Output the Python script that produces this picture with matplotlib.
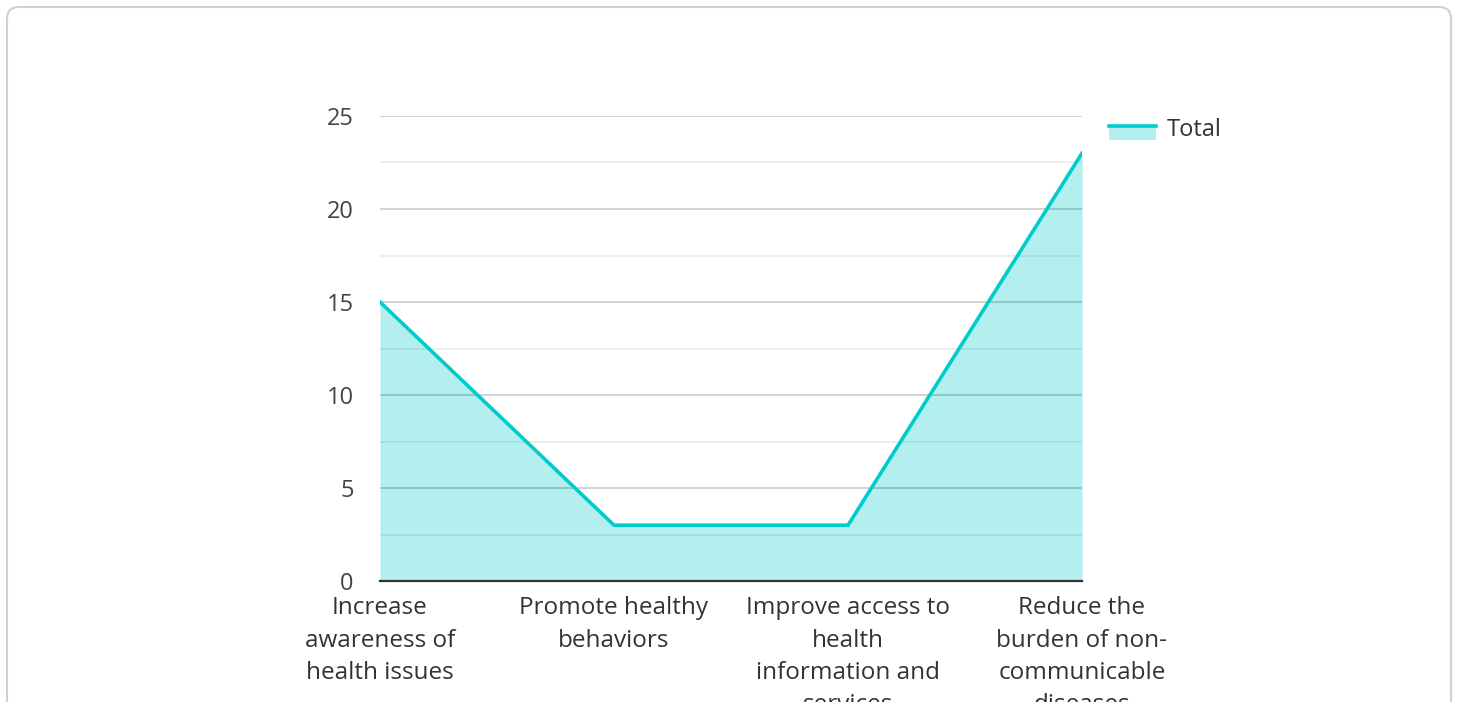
import matplotlib
matplotlib.use("Agg")
import matplotlib.pyplot as plt
from matplotlib.patches import FancyBboxPatch, Rectangle
from matplotlib.lines import Line2D
from matplotlib.legend_handler import HandlerBase
from matplotlib.ticker import MultipleLocator

categories = [
    "Increase\nawareness of\nhealth issues",
    "Promote healthy\nbehaviors",
    "Improve access to\nhealth\ninformation and\nservices",
    "Reduce the\nburden of non-\ncommunicable\ndiseases",
]
totals = [15, 3, 3, 23]
series_name = "Total"

line_color = "#00cccc"
fill_color = "#b3efee"

plt.rcParams["font.family"] = ["Open Sans", "DejaVu Sans"]

fig = plt.figure(figsize=(14.58, 7.02), dpi=100)

# rounded card border, in pixel coords (y measured from the bottom)
card = FancyBboxPatch((7, -40), 1444, 40 + 695,
                      boxstyle="round,pad=0,rounding_size=12",
                      transform=None, facecolor="white",
                      edgecolor="#d0d0d0", linewidth=1.5, zorder=-5)
fig.patches.append(card)

ax = fig.add_axes([380 / 1458, 1 - 581 / 702, 702 / 1458, 465 / 702])
ax.patch.set_alpha(0)

x = list(range(len(categories)))
ax.fill_between(x, totals, 0, color=fill_color, linewidth=0, zorder=1)
ax.plot(x, totals, color=line_color, linewidth=2.6, zorder=3,
        solid_joinstyle="miter")

ax.set_xlim(0, len(categories) - 1)
ax.set_ylim(0, 25)
ax.yaxis.set_major_locator(MultipleLocator(5))
ax.yaxis.set_minor_locator(MultipleLocator(2.5))
ax.grid(axis="y", which="major", color="#000000", alpha=0.2, linewidth=1.2, zorder=2)
ax.grid(axis="y", which="minor", color="#000000", alpha=0.08, linewidth=1.2, zorder=2)
ax.set_axisbelow(False)

for s in ["top", "right", "left"]:
    ax.spines[s].set_visible(False)
ax.spines["bottom"].set_color("#333333")
ax.spines["bottom"].set_linewidth(1.6)
ax.spines["bottom"].set_zorder(4)

ax.set_xticks(x)
ax.set_xticklabels(categories, fontsize=17.5, color="#333333",
                   linespacing=1.46, ha="center")
ax.tick_params(axis="x", length=0, pad=11)
ax.tick_params(axis="y", which="both", length=0, pad=19,
               labelsize=17, labelcolor="#444444")


class AreaHandler(HandlerBase):
    def create_artists(self, legend, orig_handle, xdescent, ydescent,
                       width, height, fontsize, trans):
        top = height * 0.62
        rect = Rectangle((-xdescent, -ydescent - height * 0.2), width,
                         top + height * 0.2, facecolor=fill_color,
                         edgecolor="none", transform=trans)
        ln = Line2D([-xdescent, -xdescent + width], [top - ydescent, top - ydescent],
                    color=line_color, linewidth=2.6, transform=trans)
        return [rect, ln]


handle = Rectangle((0, 0), 1, 1)
ax.legend([handle], [series_name], handler_map={Rectangle: AreaHandler()},
          loc="upper left", bbox_to_anchor=(1088 / 1458, 1 - 97 / 702),
          bbox_transform=fig.transFigure, frameon=False, fontsize=17,
          handlelength=2.0, handletextpad=0.45, labelcolor="#333333")

fig.savefig("out.png", dpi=100)
